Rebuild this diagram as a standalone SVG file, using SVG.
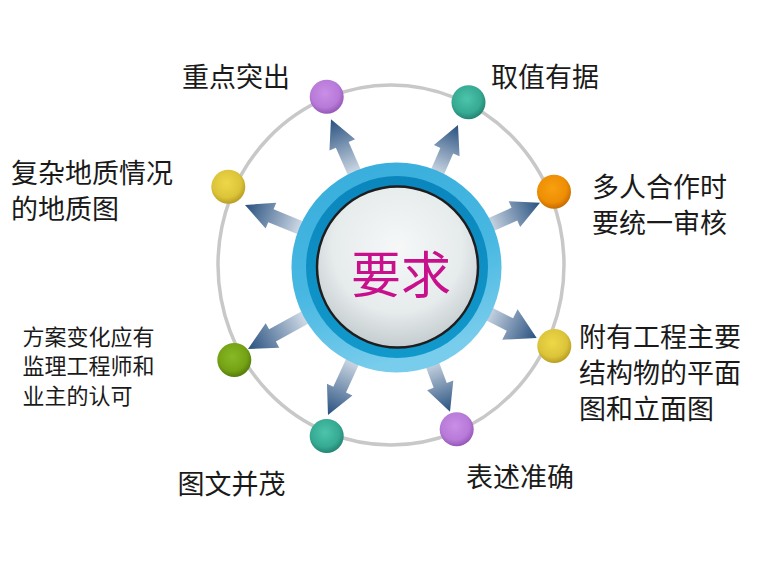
<svg xmlns="http://www.w3.org/2000/svg" width="760" height="570" viewBox="0 0 760 570">
<defs>
<style>
.lbl{font-family:"Noto Sans CJK SC","Noto Sans",sans-serif;font-size:27px;fill:#1a1a1a;dominant-baseline:central}
.sm{font-size:22px}
.arrow{fill:url(#arrowGrad)}
</style>
<linearGradient id="arrowGrad" x1="0" y1="0" x2="1" y2="0">
<stop offset="0" stop-color="#eef2f6"/>
<stop offset="0.3" stop-color="#c9d5e2"/>
<stop offset="1" stop-color="#28507f"/>
</linearGradient>
<radialGradient id="gPurple" cx="45%" cy="40%" r="60%">
<stop offset="0" stop-color="#c98ee6"/><stop offset="0.7" stop-color="#b77ad8"/><stop offset="1" stop-color="#9558b8"/>
</radialGradient>
<radialGradient id="gTeal" cx="45%" cy="40%" r="60%">
<stop offset="0" stop-color="#4cc4ab"/><stop offset="0.7" stop-color="#36aa92"/><stop offset="1" stop-color="#248474"/>
</radialGradient>
<radialGradient id="gOrange" cx="45%" cy="40%" r="60%">
<stop offset="0" stop-color="#f8a010"/><stop offset="0.7" stop-color="#ee8e04"/><stop offset="1" stop-color="#c86c00"/>
</radialGradient>
<radialGradient id="gYellow" cx="45%" cy="40%" r="60%">
<stop offset="0" stop-color="#eed848"/><stop offset="0.7" stop-color="#dcc43a"/><stop offset="1" stop-color="#b89e22"/>
</radialGradient>
<radialGradient id="gGreen" cx="45%" cy="40%" r="60%">
<stop offset="0" stop-color="#88b826"/><stop offset="0.7" stop-color="#74a214"/><stop offset="1" stop-color="#557c0c"/>
</radialGradient>
<linearGradient id="outerBand" x1="0" y1="0" x2="0.3" y2="1">
<stop offset="0" stop-color="#36acdb"/><stop offset="0.6" stop-color="#48b8e2"/><stop offset="1" stop-color="#78ccec"/>
</linearGradient>
<linearGradient id="darkBand" x1="0" y1="0" x2="0" y2="1">
<stop offset="0" stop-color="#0a86bd"/><stop offset="1" stop-color="#1299cc"/>
</linearGradient>
<radialGradient id="disk" cx="50%" cy="38%" r="62%">
<stop offset="0" stop-color="#f6f8f8"/><stop offset="0.65" stop-color="#e6ebec"/><stop offset="1" stop-color="#c4cccf"/>
</radialGradient>
</defs>

<ellipse id="ring" cx="391" cy="265" rx="173" ry="180" fill="none" stroke="#c8c8c8" stroke-width="3.5"/>

<g id="connectors">
<path class="arrow" transform="translate(396,267) rotate(-113.76)" d="M80,-7H133.4V-14L161.4,0L133.4,14V7H80Z"/>
<path class="arrow" transform="translate(396,267) rotate(-66.42)" d="M80,-7H126.9V-14L154.9,0L126.9,14V7H80Z"/>
<path class="arrow" transform="translate(396,267) rotate(-24.06)" d="M80,-7H129.7V-14L157.7,0L129.7,14V7H80Z"/>
<path class="arrow" transform="translate(396,267) rotate(26.78)" d="M80,-7H127.6V-17L157.6,0L127.6,17V7H80Z"/>
<path class="arrow" transform="translate(396,267) rotate(69.53)" d="M80,-7H126.4V-14L154.4,0L126.4,14V7H80Z"/>
<path class="arrow" transform="translate(396,267) rotate(114.68)" d="M80,-7H134.9V-14L162.9,0L134.9,14V7H80Z"/>
<path class="arrow" transform="translate(396,267) rotate(151.01)" d="M80,-7H141.2V-14L169.2,0L141.2,14V7H80Z"/>
<path class="arrow" transform="translate(396,267) rotate(-157.68)" d="M80,-7H135.2V-14L163.2,0L135.2,14V7H80Z"/>
</g>

<g id="center">
<circle cx="396.5" cy="267.5" r="105" fill="url(#outerBand)"/>
<circle cx="397" cy="267" r="91" fill="url(#darkBand)"/>
<circle cx="397.5" cy="267" r="80.5" fill="url(#disk)" stroke="#1e1e1e" stroke-width="2.5"/>
<text x="401" y="271" text-anchor="middle" dominant-baseline="central" style="font-family:'Noto Sans CJK SC',sans-serif;font-size:50px;fill:#c8108c">要求</text>
</g>

<g id="n1"><circle cx="326.7" cy="96.7" r="17" fill="url(#gPurple)"/><text class="lbl" x="182" y="75">重点突出</text></g>
<g id="n2"><circle cx="468.5" cy="102.3" r="17" fill="url(#gTeal)"/><text class="lbl" x="491" y="75">取值有据</text></g>
<g id="n3"><circle cx="554" cy="191.7" r="17" fill="url(#gOrange)"/><text class="lbl" x="592" y="185">多人合作时</text><text class="lbl" x="592" y="221">要统一审核</text></g>
<g id="n4"><circle cx="554.3" cy="346" r="17" fill="url(#gYellow)"/><text class="lbl" x="579" y="335">附有工程主要</text><text class="lbl" x="579" y="371">结构物的平面</text><text class="lbl" x="579" y="407">图和立面图</text></g>
<g id="n5"><circle cx="456.7" cy="429.3" r="17" fill="url(#gPurple)"/><text class="lbl" x="466" y="475">表述准确</text></g>
<g id="n6"><circle cx="326.7" cy="436" r="17" fill="url(#gTeal)"/><text class="lbl" x="177.5" y="482">图文并茂</text></g>
<g id="n7"><circle cx="234.3" cy="360" r="17" fill="url(#gGreen)"/><text class="lbl sm" x="22.5" y="334.5">方案变化应有</text><text class="lbl sm" x="22.5" y="364">监理工程师和</text><text class="lbl sm" x="22.5" y="393.5">业主的认可</text></g>
<g id="n8"><circle cx="228.3" cy="186.7" r="17" fill="url(#gYellow)"/><text class="lbl" x="11" y="171">复杂地质情况</text><text class="lbl" x="11" y="207">的地质图</text></g>
</svg>
